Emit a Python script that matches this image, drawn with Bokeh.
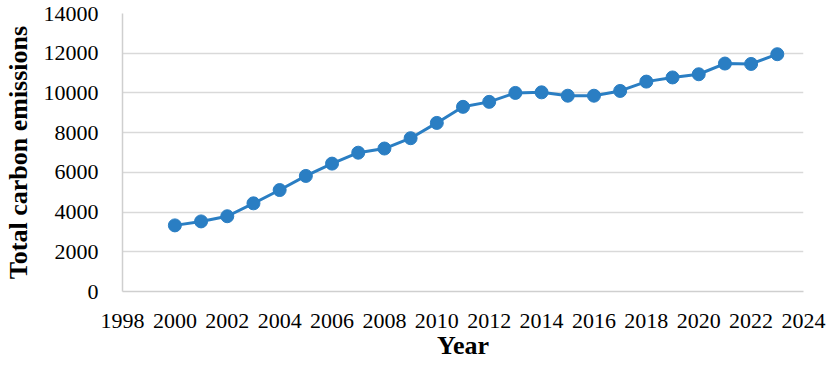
from bokeh.plotting import figure
from bokeh.models import Range1d, FixedTicker
from bokeh.embed import file_html
from bokeh.resources import INLINE

years = list(range(2000, 2024))
emissions = [3330, 3530, 3790, 4440, 5110, 5820, 6440, 6990, 7200, 7720,
             8490, 9300, 9550, 10000, 10030, 9860, 9860, 10100, 10570, 10780,
             10940, 11480, 11460, 11950]
x_ticks = list(range(1998, 2025, 2))
y_ticks = list(range(0, 14001, 2000))

p = figure(frame_width=681, frame_height=278, output_backend="svg",
           toolbar_location=None,
           x_range=Range1d(1998, 2024), y_range=Range1d(0, 14000),
           min_border_left=116, min_border_right=24,
           min_border_top=13, min_border_bottom=59)
p.outline_line_color = None
p.background_fill_color = "white"
p.border_fill_color = "white"

line_color = "#2a7ec3"
p.line(years, emissions, line_width=3, color=line_color)
p.scatter(years, emissions, size=13, color=line_color)

font = "Liberation Serif"
p.xaxis.ticker = FixedTicker(ticks=x_ticks)
p.yaxis.ticker = FixedTicker(ticks=y_ticks)
for ax in (p.xaxis, p.yaxis):
    ax.major_tick_line_color = None
    ax.minor_tick_line_color = None
    ax.axis_line_color = "#cfcfcf"
    ax.axis_line_width = 1.5
    ax.major_label_text_font = font
    ax.major_label_text_font_size = "22px"
    ax.major_label_text_color = "black"
    ax.axis_label_text_font = font
    ax.axis_label_text_font_style = "bold"
    ax.axis_label_text_font_size = "26px"
    ax.axis_label_text_color = "black"

p.xaxis.axis_label = "Year"
p.yaxis.axis_label = "Total carbon emissions"
p.xaxis.major_label_standoff = 16
p.xaxis.axis_label_standoff = 0
p.yaxis.major_label_standoff = 18
p.yaxis.axis_label_standoff = 8

p.xgrid.grid_line_color = None
p.ygrid.grid_line_color = "#d9d9d9"
p.ygrid.grid_line_width = 1.5

open("out.html", "w").write(file_html(p, INLINE))
